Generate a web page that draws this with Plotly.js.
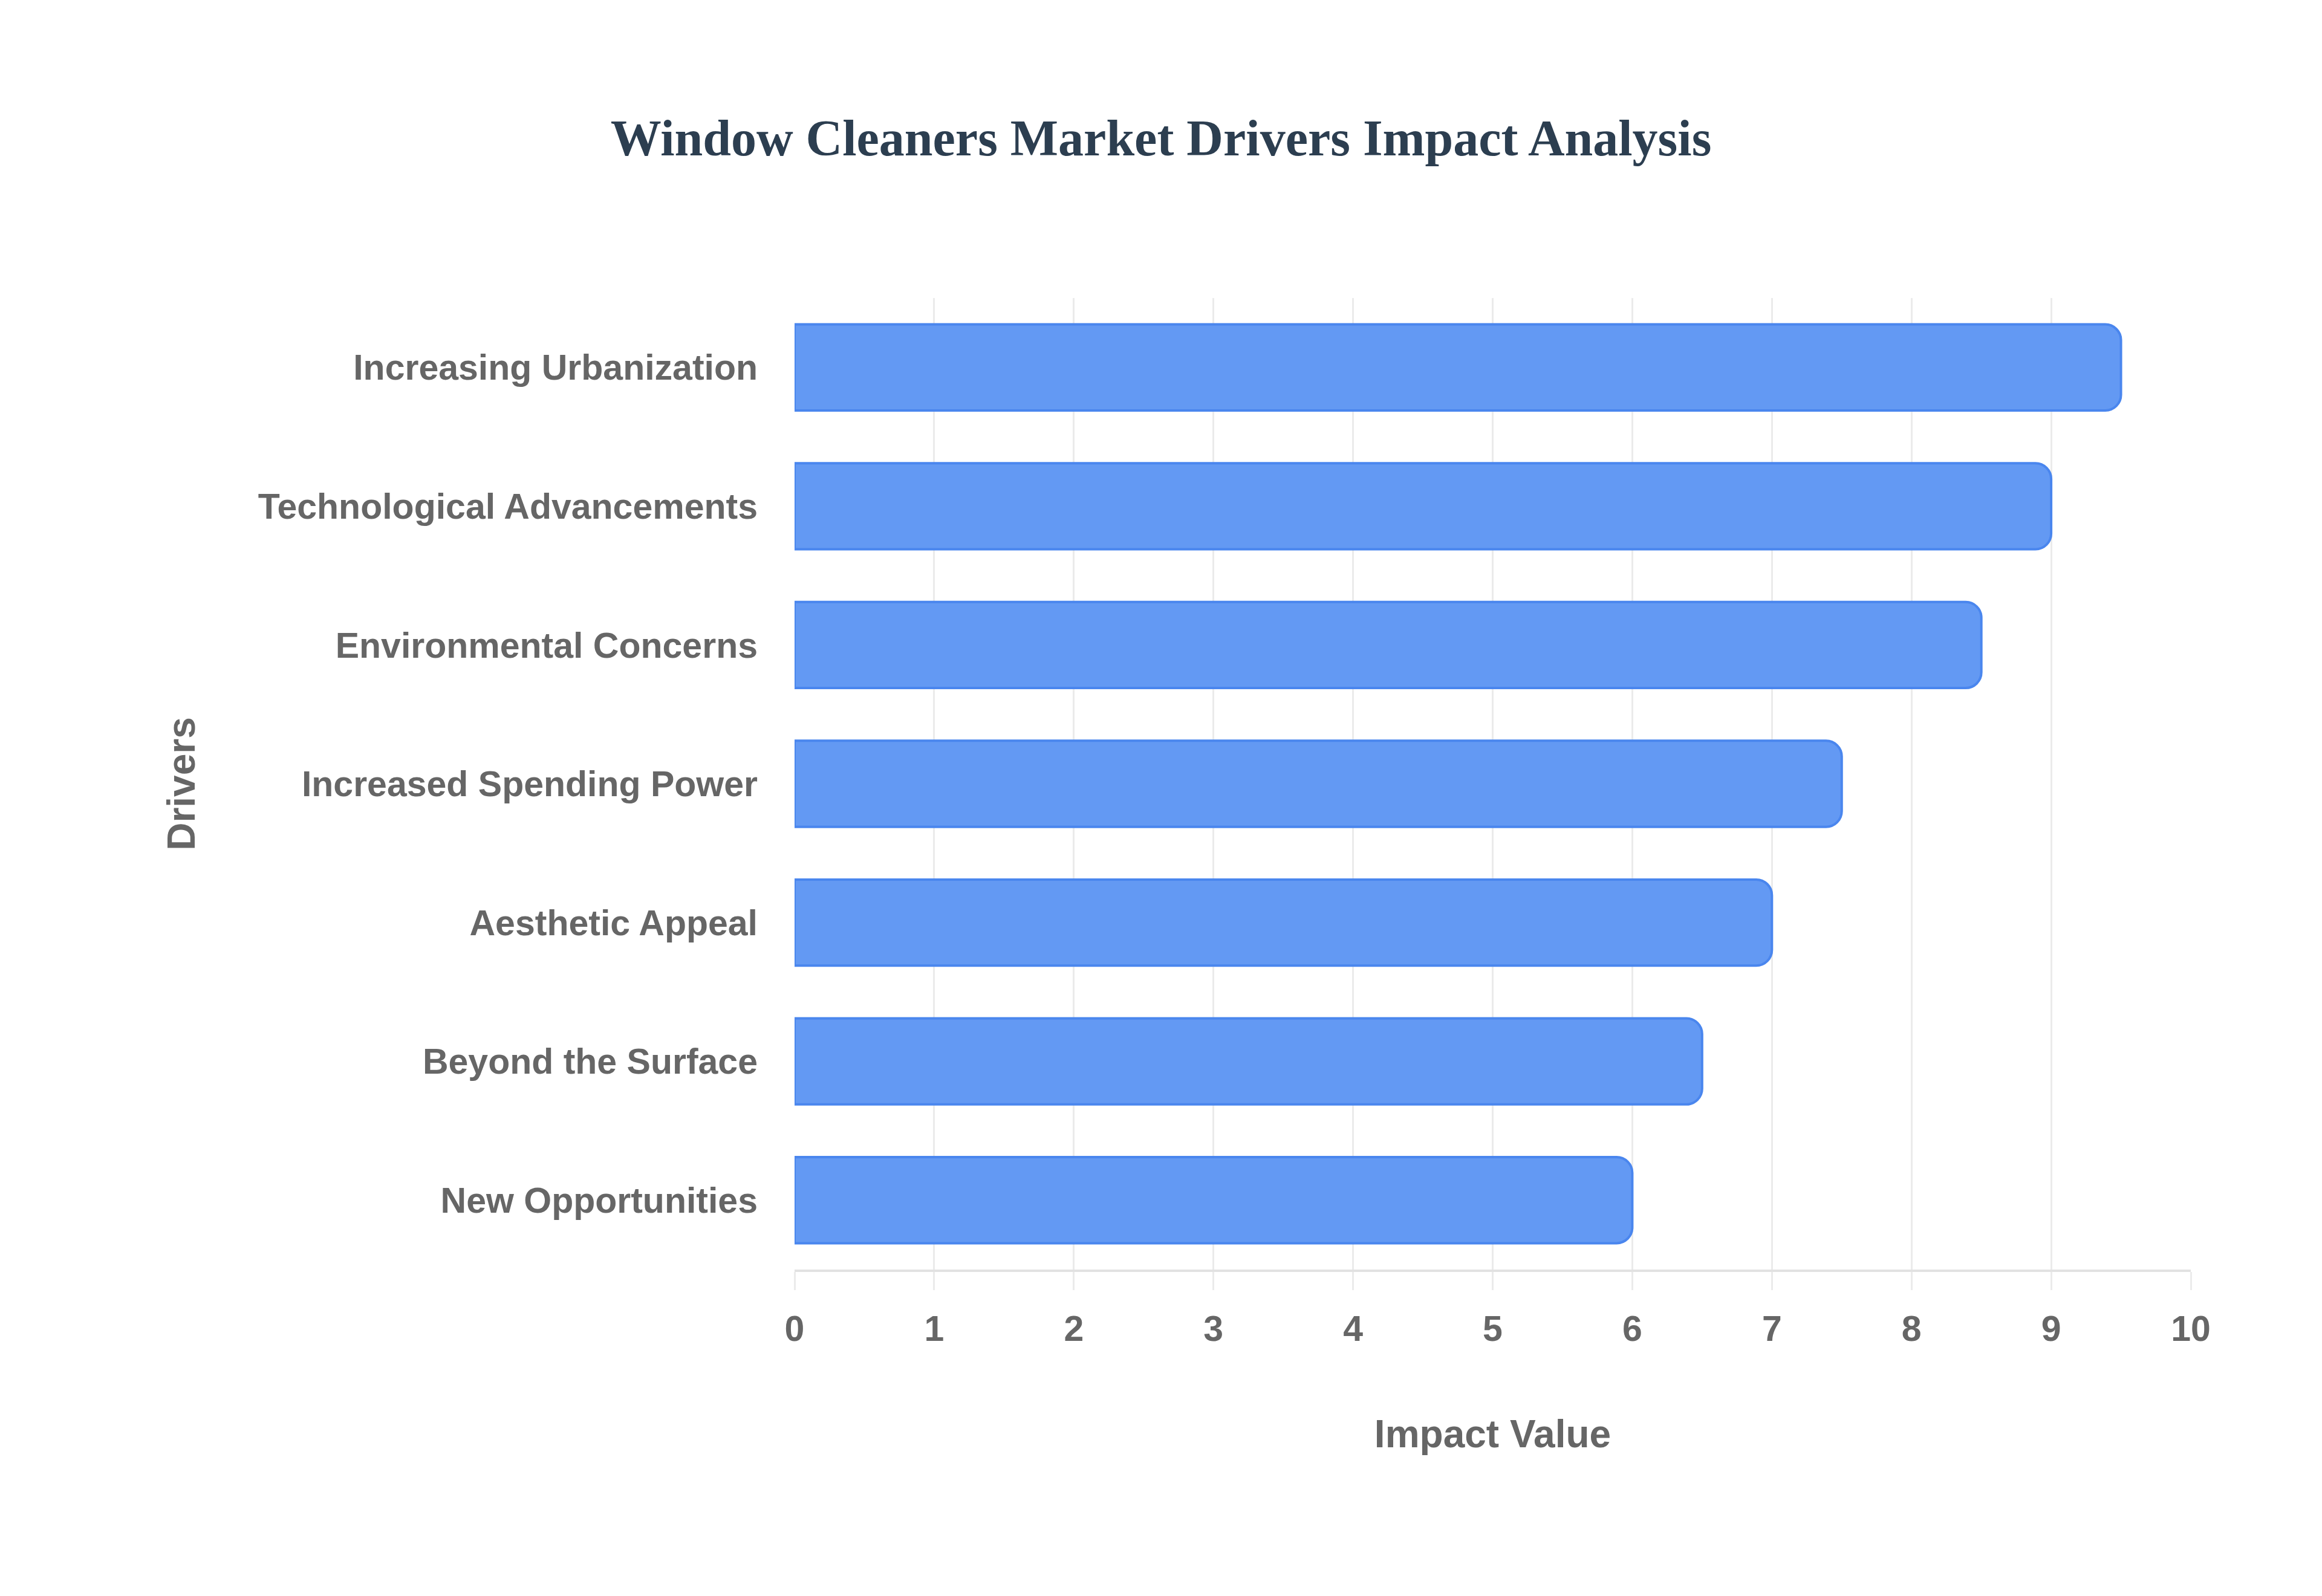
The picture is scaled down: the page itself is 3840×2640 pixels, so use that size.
<!DOCTYPE html>
<html>
<head>
<meta charset="utf-8">
<script src="https://cdn.plot.ly/plotly-3.0.1.min.js"></script>
<style>
  html, body { margin: 0; padding: 0; background: #ffffff; }
  #chart { width: 3840px; height: 2640px; }
</style>
</head>
<body>
<div id="chart"></div>
<script>
const drivers = [
  "Increasing Urbanization",
  "Technological Advancements",
  "Environmental Concerns",
  "Increased Spending Power",
  "Aesthetic Appeal",
  "Beyond the Surface",
  "New Opportunities"
];
const impactValues = [9.5, 9, 8.5, 7.5, 7, 6.5, 6];
const xTickValues = [0, 1, 2, 3, 4, 5, 6, 7, 8, 9, 10];

const trace = {
  type: "bar",
  orientation: "h",
  x: impactValues,
  y: drivers,
  marker: {
    color: "#6399F3",
    line: { color: "#4A86EE", width: 4 },
    cornerradius: 26
  },
  hoverinfo: "x+y"
};

const layout = {
  width: 3840,
  height: 2640,
  paper_bgcolor: "#ffffff",
  plot_bgcolor: "#ffffff",
  margin: { l: 1314, r: 217, t: 493, b: 540 },
  showlegend: false,
  bargap: 0.38,
  title: {
    text: "<b>Window Cleaners Market Drivers Impact Analysis</b>",
    font: { family: "Liberation Serif, Times New Roman, serif", size: 84, color: "#2C3E50" },
    x: 0.5,
    xanchor: "center",
    y: 0.9136,
    yanchor: "middle"
  },
  xaxis: {
    range: [0, 10],
    tickvals: xTickValues,
    ticktext: xTickValues.map(String),
    showgrid: true,
    gridcolor: "#EBEBEB",
    gridwidth: 3,
    zeroline: false,
    showline: true,
    linecolor: "#E2E2E2",
    linewidth: 4,
    ticks: "outside",
    ticklen: 30,
    tickwidth: 3,
    tickcolor: "#EBEBEB",
    ticklabelstandoff: 13,
    tickfont: { family: "Liberation Sans, Arial, sans-serif", size: 59, color: "#666666", weight: "bold" },
    title: {
      text: "<b>Impact Value</b>",
      font: { family: "Liberation Sans, Arial, sans-serif", size: 64, color: "#666666" },
      standoff: 120
    }
  },
  yaxis: {
    autorange: "reversed",
    showgrid: false,
    zeroline: false,
    showline: false,
    ticks: "",
    ticklabelstandoff: 60,
    tickfont: { family: "Liberation Sans, Arial, sans-serif", size: 59, color: "#666666", weight: "bold" },
    title: {
      text: "<b>Drivers</b>",
      font: { family: "Liberation Sans, Arial, sans-serif", size: 64, color: "#666666" },
      standoff: 83
    }
  }
};

Plotly.newPlot("chart", [trace], layout, { displayModeBar: false, staticPlot: true });
</script>
</body>
</html>
